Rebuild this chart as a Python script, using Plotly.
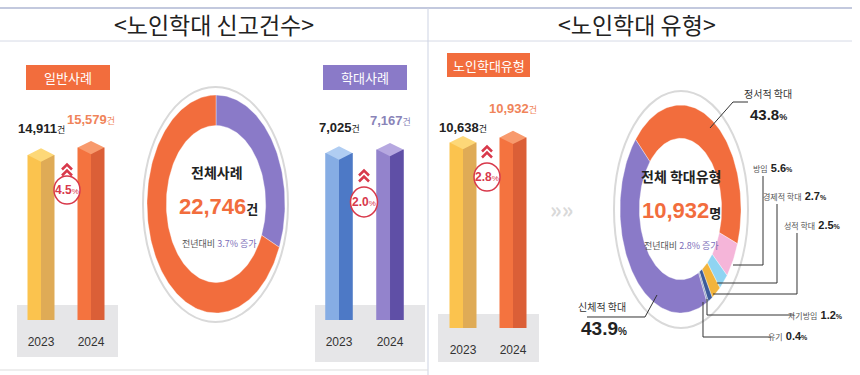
import math
import plotly.graph_objects as go

W, H = 860, 375

# ---------------- data ----------------
years = ["2023", "2024"]
general_cases = [14911, 15579]      # 일반사례
abuse_cases = [7025, 7167]          # 학대사례
type_cases = [10638, 10932]         # 노인학대유형
type_names = ["정서적 학대", "방임", "경제적 학대", "성적 학대", "자기방임", "유기", "신체적 학대"]
type_shares = [43.8, 5.6, 2.7, 2.5, 1.2, 0.4, 43.9]

KR = "Noto Sans CJK KR"
NUM = "Liberation Sans Narrow, Liberation Sans, Noto Sans CJK KR"

ORANGE = "#f26d3d"
PURPLE = "#8a7ac8"
RED = "#d8394b"


def px(x):
    return x / W


def py(y):
    return 1 - y / H


def pct(a, b):
    return (b / a - 1) * 100


fig = go.Figure()
shapes = []
ann = []


def text(t, x, y, size, color="#222", family=KR, **kw):
    ann.append(dict(text=t, x=px(x), y=py(y), xref="paper", yref="paper", xanchor="center",
                    yanchor="middle", showarrow=False, font=dict(family=family, size=size, color=color), **kw))


def path(points):
    s = "M{:.5f},{:.5f}".format(px(points[0][0]), py(points[0][1]))
    for x, y in points[1:]:
        s += " L{:.5f},{:.5f}".format(px(x), py(y))
    return s


# ---------------- frame lines ----------------
shapes.append(dict(type="line", xref="paper", yref="paper", x0=0, x1=px(852), y0=py(8), y1=py(8),
                   line=dict(color="#c3c9de", width=2)))
shapes.append(dict(type="line", xref="paper", yref="paper", x0=0, x1=px(852), y0=py(41), y1=py(41),
                   line=dict(color="#d6dae6", width=1)))
shapes.append(dict(type="line", xref="paper", yref="paper", x0=px(428), x1=px(428), y0=py(8), y1=py(375),
                   line=dict(color="#cdd3e3", width=1)))
shapes.append(dict(type="line", xref="paper", yref="paper", x0=0, x1=px(428), y0=py(370), y1=py(370),
                   line=dict(color="#dddddd", width=1)))

text("&lt;노인학대 신고건수&gt;", 214, 24, 23)
text("&lt;노인학대 유형&gt;", 637, 24, 23)

# ---------------- bar panels ----------------
panels = [
    dict(vals=general_cases, n="", xdom=(0, 140), bottom=320, xr=(-0.82, 1.98), yr=28918,
         light=["#fbc34e", "#f4733f"], dark=["#dfab56", "#db5f37"], top=["#fdd878", "#f89a6d"],
         lab_col=["#222222", "#f0845a"], yshift=[27, 28],
         badge=(67, 190, 26, 28), chev=(67, 170),
         band=(17, 305, 118, 357),
         box=(26, 65, 110, 90, "일반사례", ORANGE)),
    dict(vals=abuse_cases, n="2", xdom=(300, 428), bottom=320, xr=(-0.765, 1.745), yr=13461,
         light=["#86ade4", "#9383cc"], dark=["#4d79c6", "#5f4fa6"], top=["#b0cdf2", "#b6a8e0"],
         lab_col=["#222222", "#8a84b8"], yshift=[26, 29],
         badge=(364, 202, 27, 30), chev=(364, 176),
         band=(315, 305, 425, 362),
         box=(323, 65, 407, 90, "학대사례", PURPLE)),
    dict(vals=type_cases, n="3", xdom=(430, 560), bottom=328, xr=(-0.66, 1.94), yr=18818,
         light=["#fbc34e", "#f4733f"], dark=["#dfab56", "#db5f37"], top=["#fdd878", "#f89a6d"],
         lab_col=["#222222", "#f0845a"], yshift=[15, 29],
         badge=(487, 177, 26, 28), chev=(487, 152),
         band=(438, 314, 539, 362),
         box=(447, 53, 530, 77, "노인학대유형", ORANGE)),
]

layout_axes = {}
for p in panels:
    xa = "x" + p["n"]
    ya = "y" + p["n"]
    idx = [0, 1]
    fig.add_trace(go.Bar(x=idx, y=p["vals"], offset=-0.27, width=0.27, marker=dict(color=p["light"], line=dict(width=0)),
                         xaxis=xa, yaxis=ya, hoverinfo="skip", showlegend=False))
    fig.add_trace(go.Bar(x=idx, y=p["vals"], offset=0, width=0.27, marker=dict(color=p["dark"], line=dict(width=0)),
                         xaxis=xa, yaxis=ya, hoverinfo="skip", showlegend=False))
    fig.add_trace(go.Scatter(x=idx, y=p["vals"], mode="markers", cliponaxis=False,
                             marker=dict(symbol="diamond-wide", size=19, color=p["top"], line=dict(width=0)),
                             xaxis=xa, yaxis=ya, hoverinfo="skip", showlegend=False))
    xkey = "xaxis" + p["n"]
    ykey = "yaxis" + p["n"]
    layout_axes[xkey] = dict(domain=[px(p["xdom"][0]), px(p["xdom"][1])], range=list(p["xr"]),
                             anchor=ya, tickmode="array", tickvals=idx, ticktext=years,
                             ticks="outside", ticklen=11, tickcolor="rgba(0,0,0,0)",
                             showgrid=False, zeroline=False, showline=False,
                             tickfont=dict(family=NUM, size=12, color="#333"), fixedrange=True)
    layout_axes[ykey] = dict(domain=[py(p["bottom"]), 1], range=[0, p["yr"]], anchor=xa,
                             visible=False, fixedrange=True)
    # value labels
    for i in idx:
        ann.append(dict(text=f"<b>{p['vals'][i]:,}</b><span style='font-size:9px'>건</span>",
                        x=i, y=p["vals"][i], xref=xa, yref=ya, yshift=p["yshift"][i], showarrow=False,
                        xanchor="center", yanchor="middle",
                        font=dict(family=NUM, size=13, color=p["lab_col"][i])))
    # grey base band
    bx0, by0, bx1, by1 = p["band"]
    shapes.append(dict(type="rect", xref="paper", yref="paper", x0=px(bx0), x1=px(bx1), y0=py(by1), y1=py(by0),
                       fillcolor="#e6e6e8", line=dict(width=0), layer="below"))
    # label box
    x0, y0, x1, y1, txt, col = p["box"]
    shapes.append(dict(type="rect", xref="paper", yref="paper", x0=px(x0), x1=px(x1), y0=py(y1), y1=py(y0),
                       fillcolor=col, line=dict(width=0)))
    text(txt, (x0 + x1) / 2, (y0 + y1) / 2, 13, "white")
    # growth badge
    cx, cy, bw, bh = p["badge"]
    shapes.append(dict(type="circle", xref="paper", yref="paper", x0=px(cx - bw / 2), x1=px(cx + bw / 2),
                       y0=py(cy + bh / 2), y1=py(cy - bh / 2), fillcolor="white", line=dict(color=RED, width=1.5)))
    g = pct(p["vals"][0], p["vals"][1])
    text(f"<b>{g:.1f}</b><span style='font-size:8px'>%</span>", cx, cy, 12, RED, NUM)
    # double chevron above the badge
    chx, chy = p["chev"]
    for dy in (-3, 3):
        shapes.append(dict(type="path", xref="paper", yref="paper",
                           path=path([(chx - 5, chy + dy + 2.5), (chx, chy + dy - 2.5), (chx + 5, chy + dy + 2.5)]),
                           line=dict(color=RED, width=2.5)))


# ---------------- donuts ----------------
def donut(values, colors, start, rin, xa, ya):
    tot = sum(values)
    a0 = start
    for v, c in zip(values, colors):
        sweep = 360 * v / tot
        n = max(4, int(sweep / 1.5) + 2)
        ts = [math.radians(a0 + sweep * i / (n - 1)) for i in range(n)]
        xs = [math.sin(t) for t in ts] + [rin * math.sin(t) for t in reversed(ts)]
        ys = [math.cos(t) for t in ts] + [rin * math.cos(t) for t in reversed(ts)]
        fig.add_trace(go.Scatter(x=xs + [xs[0]], y=ys + [ys[0]], mode="lines", fill="toself", fillcolor=c,
                                 line=dict(width=0.6, color="rgba(255,255,255,0.6)"), xaxis=xa, yaxis=ya,
                                 hoverinfo="skip", showlegend=False))
        a0 += sweep


def donut_axes(n, xd, yd, ya):
    layout_axes["xaxis" + n] = dict(domain=[px(xd[0]), px(xd[1])], range=[-1, 1], visible=False,
                                    anchor=ya, fixedrange=True)
    layout_axes["yaxis" + n] = dict(domain=[py(yd[1]), py(yd[0])], range=[-1, 1], visible=False,
                                    anchor="x" + n, fixedrange=True)


# donut A: total cases 2024
donut([abuse_cases[1], general_cases[1]], [PURPLE, ORANGE], 0, 0.72, "x4", "y4")
donut_axes("4", (147, 285), (95, 313), "y4")
shapes.append(dict(type="circle", xref="paper", yref="paper", x0=px(143), x1=px(288), y0=py(322), y1=py(87),
                   line=dict(color="#d9d9d9", width=2), layer="below"))
total_2024 = general_cases[1] + abuse_cases[1]
total_2023 = general_cases[0] + abuse_cases[0]
text("<b>전체사례</b>", 217, 172, 14)
text(f"<b>{total_2024:,}</b><span style='font-size:13px;color:#222'><b>건</b></span>", 218, 206, 22, ORANGE, NUM)
text(f"전년대비 <span style='color:#7a6db8'>{pct(total_2023, total_2024):.1f}% 증가</span>", 219, 243, 9, "#555")

# donut C: abuse types
type_colors = [ORANGE, "#f5b5d9", "#8fd4f2", "#f2b43c", "#3d5b9a", "#8c9cbc", PURPLE]
donut(type_shares, type_colors, 312, 0.68, "x5", "y5")
donut_axes("5", (620, 741), (105, 313), "y5")
shapes.append(dict(type="circle", xref="paper", yref="paper", x0=px(614), x1=px(748), y0=py(328), y1=py(91),
                   line=dict(color="#d9d9d9", width=2), layer="below"))
text("<b>전체 학대유형</b>", 681, 176, 14)
text(f"<b>{type_cases[1]:,}</b><span style='font-size:13px;color:#222'><b>명</b></span>", 681, 210, 22, ORANGE, NUM)
text(f"전년대비 <span style='color:#7a6db8'>{pct(type_cases[0], type_cases[1]):.1f}% 증가</span>", 681, 245, 9, "#555")

# faint arrow between bars and donut
text("<b>»»</b>", 561, 208, 22, "#d9d9d9")

# ---------------- type labels & leader lines ----------------
leaders = [
    [(710, 128), (733, 102), (748, 102)],
    [(733, 265), (763, 265), (763, 176)],
    [(717, 283), (777, 283), (777, 204)],
    [(713, 294), (797, 294), (797, 233)],
    [(707, 299), (707, 315), (794, 315)],
    [(703, 302), (703, 337), (771, 337)],
    [(657, 295), (645, 317), (587, 317)],
]
for pts in leaders:
    shapes.append(dict(type="path", xref="paper", yref="paper", path=path(pts),
                       line=dict(color="#333333", width=1)))

text(type_names[0], 768, 93, 10, "#333")
text(f"<b>{type_shares[0]}</b><span style='font-size:9px'><b>%</b></span>", 768, 114, 15, "#222", NUM)
text(type_names[6], 602, 306, 10, "#333")
text(f"<b>{type_shares[6]}</b><span style='font-size:10px'><b>%</b></span>", 604, 328, 19, "#222", NUM)

small_pos = {1: (773, 168), 2: (795, 196), 3: (812, 225), 4: (815, 315), 5: (788, 336)}
for i, (x, y) in small_pos.items():
    text(f"<span style='font-family:{KR};font-size:8px;color:#555'>{type_names[i]}</span> "
         f"<b>{type_shares[i]}</b><span style='font-size:7px'><b>%</b></span>", x, y, 11, "#222", NUM)

fig.update_layout(width=W, height=H, margin=dict(l=0, r=0, t=0, b=0), paper_bgcolor="white",
                  plot_bgcolor="rgba(0,0,0,0)", barmode="overlay", showlegend=False,
                  shapes=shapes, annotations=ann, **layout_axes)

fig.write_html("out.html", config={"displayModeBar": False, "staticPlot": True},
               post_script="document.body.style.margin='0px';document.body.style.overflow='hidden';")
